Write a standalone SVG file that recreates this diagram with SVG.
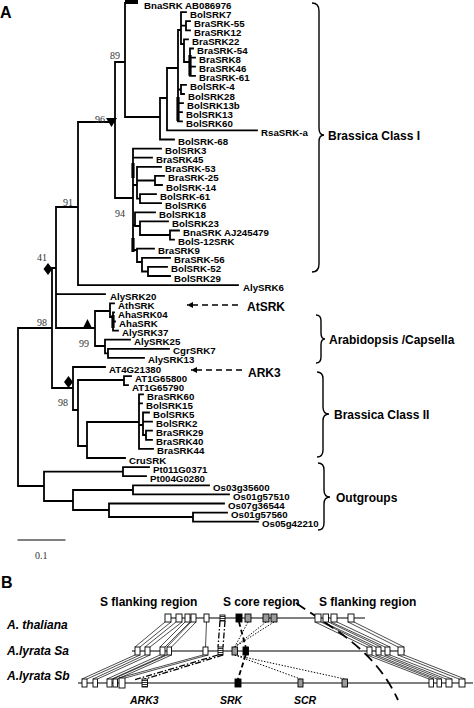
<svg xmlns="http://www.w3.org/2000/svg" width="474" height="708" viewBox="0 0 474 708">
<style>
.br{fill:none;stroke:#000;stroke-width:1.8;stroke-linecap:square}
.tk{fill:none;stroke:#000;stroke-width:3.2}
.lf{font-family:"Liberation Sans",Arial,sans-serif;font-weight:bold;font-size:9.7px;fill:#000}
.bs{font-family:"Liberation Serif","Times New Roman",serif;font-size:10px;fill:#333}
.gp{font-family:"Liberation Sans",Arial,sans-serif;font-weight:bold;font-size:12px;fill:#000}
.pl{font-family:"Liberation Sans",Arial,sans-serif;font-weight:bold;font-size:16px;fill:#000}
.it{font-style:italic}
.gn{font-family:"Liberation Sans",Arial,sans-serif;font-weight:bold;font-style:italic;font-size:10.5px;fill:#000}
.brace{fill:none;stroke:#000;stroke-width:1.4}
.arr{fill:none;stroke:#000;stroke-width:1.6;stroke-dasharray:6 4}
.chr{stroke:#000;stroke-width:1.2;fill:none}
.wb{fill:#fff;stroke:#000;stroke-width:0.9}
.gb{fill:#9a9a9a;stroke:#000;stroke-width:0.9}
.kb{fill:#000;stroke:#000;stroke-width:0.9}
.hb{fill:url(#hp);stroke:#000;stroke-width:0.9}
.dl{stroke:#000;stroke-width:0.7;fill:none}
.dot{stroke:#000;stroke-width:1;stroke-dasharray:1.4 1.6;fill:none}
.dd{stroke:#000;stroke-width:1.3;stroke-dasharray:6 2 1.5 2;fill:none}
.ds{stroke:#000;stroke-width:1.8;stroke-dasharray:5 3;fill:none}
.lds{stroke:#000;stroke-width:1.8;stroke-dasharray:11 6;fill:none}
.mk{fill:#000}
</style>
<defs>
<marker id="ah" viewBox="0 0 10 10" refX="10" refY="5" markerWidth="6" markerHeight="6" orient="auto" markerUnits="userSpaceOnUse">
<path d="M0,0 L10,5 L0,10 z" fill="#000"/>
</marker>
<pattern id="hp" width="4" height="2" patternUnits="userSpaceOnUse">
<rect width="4" height="2" fill="#fff"/>
<rect width="4" height="0.8" fill="#000"/>
</pattern>
</defs>
<rect width="474" height="708" fill="#fff"/>
<text class="pl" x="0" y="18">A</text>
<text class="pl" x="1" y="588">B</text>

<g id="connectors">
<path class="br" d="M115,62H125 M125,3V117 M125,117H160 M160,98V139.5 M160,139.5H174 M160,98H167 M167,68V130.4 M167,130.4H257 M167,68H178 M178,30V121.3
M178,30H181 M181,12.1V44 M181,12.1H186 M181,25.7H186 M186,21.2V30.3 M186,21.2H190 M186,30.3H190 M181,44H184 M184,39.4V62 M184,39.4H188 M184,62H190 M190,48.5V75.8 M190,48.5H193 M190,57.6H195 M190,66.7H195 M190,75.8H195
M178,89.5H181 M181,84.9V94 M181,84.9H186 M181,94H184 M178,103.1H183 M178,112.2H182 M178,121.3H182
M78,122H115 M115,62V198 M115,198H133 M133,148.6V250
M133,148.6H161 M133,157.7H152 M133,185H137 M137,166.8V198.6 M137,166.8H161 M137,180.5H155 M155,175.9V185 M155,175.9H164 M155,185H162 M137,198.6H140 M140,194.1V203.2 M140,194.1H156 M140,203.2H161
M133,225H135 M135,212.3V226 M135,212.3H155 M135,226H140 M140,221.4V235 M140,221.4H168 M140,235H170 M170,230.5V239.6 M170,230.5H179 M170,239.6H174
M133,250H137 M137,248.7V262 M137,248.7H154 M137,262H142 M142,257.8V271.5 M142,257.8H170 M142,271.5H148 M148,266.9V276 M148,266.9H167 M148,276H170
M56,207H78 M78,122V285.1 M78,285.1H238
M52,268H56 M56,207V328 M56,294.2H105 M56,328H95
M95,311V346 M95,311H110 M110,303.3V317 M110,303.3H114 M110,317H113 M113,312.4V330.6 M113,312.4H114 M113,321.5H115 M113,330.6H118
M95,346H105 M105,339.7V353.4 M105,339.7H130 M105,353.4H108 M108,348.8V357.9 M108,348.8H169 M108,357.9H144
M18,328H52 M52,268V388 M52,388H73
M73,367V410 M73,367H105 M73,410H78 M78,380V446 M78,380H124 M124,376.1V385.2 M124,376.1H131 M124,385.2H128 M78,446H87 M87,422V458 M87,458H125 M87,422H139 M139,394.3V448.9 M139,394.3H143 M139,403.4H142 M139,425H143 M143,412.5V435 M143,412.5H149 M143,421.6H152 M143,435H146 M146,430.7V439.8 M146,430.7H152 M146,439.8H152 M139,448.9H153
M18,328V486 M18,486H44 M44,471.6V501 M44,471.6H123 M123,467.1V476.2 M123,467.1H149 M123,476.2H146 M44,501H73 M73,490V510 M73,490H133 M133,485.3V494.4 M133,485.3H209 M133,494.4H229 M73,510H109 M109,503.5V517 M109,503.5H224 M109,517H193 M193,512.6V521.7 M193,512.6H227 M193,521.7H258"/>
<rect x="125" y="0" width="13" height="4" fill="#000"/>
<path class="tk" d="M190,55V75.8 M178,97V121 M133,163V178 M133,238V252 M113,315V328"/>
<path class="br" d="M18,540H65" style="stroke-width:1"/>
<path class="arr" d="M238,305H187" marker-end="url(#ah)"/>
<path class="arr" d="M242,370H191" marker-end="url(#ah)"/>
</g>

<g id="markers">
<path class="mk" d="M106,118H117L111.5,127z"/>
<path class="mk" d="M48,263L52.5,269L48,275L43.5,269z"/>
<path class="mk" d="M87.5,319L92,328H83z"/>
<path class="mk" d="M68.5,376L73,382L68.5,388L64,382z"/>
</g>

<g id="bootstrap">
<text class="bs" x="110" y="59">89</text>
<text class="bs" x="95" y="123">96</text>
<text class="bs" x="115" y="217">94</text>
<text class="bs" x="63" y="206">91</text>
<text class="bs" x="37" y="261">41</text>
<text class="bs" x="37" y="326">98</text>
<text class="bs" x="79" y="347">99</text>
<text class="bs" x="58" y="406">98</text>
<text class="bs" x="35" y="559">0.1</text>
</g>

<g id="leaves" class="lf">
<g id="n1"><text x="144" y="8.5">BnaSRK AB086976</text></g>
<g id="n2"><text x="190" y="17.6">BolSRK7</text></g>
<g id="n3"><text x="194" y="26.7">BraSRK-55</text></g>
<g id="n4"><text x="194" y="35.8">BraSRK12</text></g>
<g id="n5"><text x="192" y="44.9">BraSRK22</text></g>
<g id="n6"><text x="197" y="54">BraSRK-54</text></g>
<g id="n7"><text x="199" y="63.1">BraSRK8</text></g>
<g id="n8"><text x="199" y="72.2">BraSRK46</text></g>
<g id="n9"><text x="199" y="81.3">BraSRK-61</text></g>
<g id="n10"><text x="190" y="90.4">BolSRK-4</text></g>
<g id="n11"><text x="188" y="99.5">BolSRK28</text></g>
<g id="n12"><text x="187" y="108.6">BolSRK13b</text></g>
<g id="n13"><text x="186" y="117.7">BolSRK13</text></g>
<g id="n14"><text x="186" y="126.8">BolSRK60</text></g>
<g id="n15"><text x="261" y="135.9">RsaSRK-a</text></g>
<g id="n16"><text x="178" y="145">BolSRK-68</text></g>
<g id="n17"><text x="165" y="154.1">BolSRK3</text></g>
<g id="n18"><text x="156" y="163.2">BraSRK45</text></g>
<g id="n19"><text x="165" y="172.3">BraSRK-53</text></g>
<g id="n20"><text x="168" y="181.4">BraSRK-25</text></g>
<g id="n21"><text x="166" y="190.5">BolSRK-14</text></g>
<g id="n22"><text x="160" y="199.6">BolSRK-61</text></g>
<g id="n23"><text x="165" y="208.7">BolSRK6</text></g>
<g id="n24"><text x="159" y="217.8">BolSRK18</text></g>
<g id="n25"><text x="172" y="226.9">BolSRK23</text></g>
<g id="n26"><text x="183" y="236">BnaSRK AJ245479</text></g>
<g id="n27"><text x="178" y="245.1">BolS-12SRK</text></g>
<g id="n28"><text x="158" y="254.2">BraSRK9</text></g>
<g id="n29"><text x="174" y="263.3">BraSRK-56</text></g>
<g id="n30"><text x="171" y="272.4">BolSRK-52</text></g>
<g id="n31"><text x="174" y="281.5">BolSRK29</text></g>
<g id="n32"><text x="243" y="290.6">AlySRK6</text></g>
<g id="n33"><text x="110" y="299.7">AlySRK20</text></g>
<g id="n34"><text x="118" y="308.8">AthSRK</text></g>
<g id="n35"><text x="118" y="317.9">AhaSRK04</text></g>
<g id="n36"><text x="119" y="327">AhaSRK</text></g>
<g id="n37"><text x="122" y="336.1">AlySRK37</text></g>
<g id="n38"><text x="134" y="345.2">AlySRK25</text></g>
<g id="n39"><text x="173" y="354.3">CgrSRK7</text></g>
<g id="n40"><text x="148" y="363.4">AlySRK13</text></g>
<g id="n41"><text x="109" y="372.5">AT4G21380</text></g>
<g id="n42"><text x="135" y="381.6">AT1G65800</text></g>
<g id="n43"><text x="132" y="390.7">AT1G65790</text></g>
<g id="n44"><text x="147" y="399.8">BraSRK60</text></g>
<g id="n45"><text x="146" y="408.9">BolSRK15</text></g>
<g id="n46"><text x="153" y="418">BolSRK5</text></g>
<g id="n47"><text x="156" y="427.1">BolSRK2</text></g>
<g id="n48"><text x="156" y="436.2">BraSRK29</text></g>
<g id="n49"><text x="156" y="445.3">BraSRK40</text></g>
<g id="n50"><text x="157" y="454.4">BraSRK44</text></g>
<g id="n51"><text x="129" y="463.5">CruSRK</text></g>
<g id="n52"><text x="153" y="472.6">Pt011G0371</text></g>
<g id="n53"><text x="150" y="481.7">Pt004G0280</text></g>
<g id="n54"><text x="213" y="490.8">Os03g35600</text></g>
<g id="n55"><text x="233" y="499.9">Os01g57510</text></g>
<g id="n56"><text x="228" y="509">Os07g36544</text></g>
<g id="n57"><text x="231" y="518.1">Os01g57560</text></g>
<g id="n58"><text x="262" y="527.2">Os05g42210</text></g>
</g>

<g id="callouts">
<text class="gp" x="247" y="311">AtSRK</text>
<text class="gp" x="248" y="377">ARK3</text>
</g>

<g id="groups">
<path class="brace" d="M312,3Q319,3 319,11V128Q319,135 324,135Q319,135 319,142V264Q319,272 312,272"/>
<text class="gp" x="328" y="139.5">Brassica Class I</text>
<path class="brace" d="M316,315Q321,315 321,321V333Q321,339 325,339Q321,339 321,345V357Q321,363 316,363"/>
<text class="gp" x="329" y="343.5">Arabidopsis /Capsella</text>
<path class="brace" d="M317,372Q323,372 323,379V407Q323,414 329,414Q323,414 323,421V450Q323,457 317,457"/>
<text class="gp" x="334" y="418.5">Brassica Class II</text>
<path class="brace" d="M318,463Q324,463 324,470V490Q324,497 330,497Q324,497 324,504V523Q324,530 318,530"/>
<text class="gp" x="336" y="501.5">Outgroups</text>
</g>

<g id="panelB">
<text class="gp" x="100" y="606">S flanking region</text>
<text class="gp" x="223" y="606">S core region</text>
<text class="gp" x="319" y="606">S flanking region</text>
<text class="gp it" x="7" y="629">A. thaliana</text>
<text class="gp it" x="7" y="654.5">A.lyrata Sa</text>
<text class="gp it" x="7" y="680">A.lyrata Sb</text>
<text class="gn" x="130" y="704">ARK3</text>
<text class="gn" x="220" y="704">SRK</text>
<text class="gn" x="294" y="704">SCR</text>

<g id="links">
<path class="dl" d="M165,622L135,647 M171,622L140,647 M176,622L145,647 M182,622L150,647 M185,622L160,647 M190,622L165,647 M191,622L167,647 M196,622L171.5,647 M206.5,622L205.5,647
M135,655L82,679 M140,655L87,679 M145,655L93,679 M150,655L97.5,679 M160,655L107,679 M165,655L112,679 M167,655L113,679 M171.5,655L117.5,679 M203,655L119,678 M208,655L125,678
M315,622L367,647 M321,622L372,647 M323,622L376,647 M328.5,622L381,647 M331,622L385,647 M337,622L390,647 M348,622L398,647 M354,622L404,647
M367,655L429,679 M372,655L433.5,679 M376,655L437,679 M381,655L441.5,679 M385,655L446,679 M390,655L452,679 M398,655L459,679 M404,655L465,679"/>
<path class="dd" d="M220,621L218,647 M225,621L223,647 M218,655L134,680 M223,655L142,680"/>
<path class="ds" d="M239,622L245.7,647 M245.7,655L238,679"/>
<path class="dot" d="M248,622L234.7,647 M266,622L234.7,647 M274,622L234.7,647 M234.7,655L300.5,679 M234.7,655L344.7,679"/>
<path class="lds" d="M296,603C335,630 375,650 398,700"/>
</g>

<g id="chromosomes">
<path class="chr" d="M165,618H365 M132,651H405 M78,683H473"/>
</g>

<g id="athaliana">
<rect class="wb" x="165" y="614" width="6" height="8"/>
<rect class="wb" x="176" y="614" width="6" height="8"/>
<rect class="wb" x="185" y="614" width="5" height="8"/>
<rect class="wb" x="191" y="614" width="5" height="8"/>
<rect class="wb" x="204" y="614" width="5" height="8"/>
<rect class="hb" x="220" y="615" width="5" height="6"/>
<rect class="kb" x="236" y="614" width="6" height="8"/>
<rect class="gb" x="245" y="614" width="6" height="8"/>
<rect class="gb" x="263" y="614" width="6" height="8"/>
<rect class="gb" x="271" y="614" width="6" height="8"/>
<rect class="wb" x="315" y="614" width="6" height="8"/>
<rect class="wb" x="323" y="614" width="5.5" height="8"/>
<rect class="wb" x="331" y="614" width="6" height="8"/>
<rect class="wb" x="348" y="614" width="6" height="8"/>
</g>
<g id="lyrataSa">
<rect class="wb" x="135" y="647" width="5" height="8"/>
<rect class="wb" x="145" y="647" width="5" height="8"/>
<rect class="wb" x="160" y="647" width="5" height="8"/>
<rect class="wb" x="167" y="647" width="4.5" height="8"/>
<rect class="wb" x="203" y="647" width="5" height="8"/>
<rect class="hb" x="218" y="647" width="5" height="8"/>
<rect class="gb" x="232" y="647" width="5.5" height="8"/>
<rect class="kb" x="243" y="647" width="5.5" height="8"/>
<rect class="wb" x="367" y="647" width="5" height="8"/>
<rect class="wb" x="376" y="647" width="5" height="8"/>
<rect class="wb" x="385" y="647" width="5" height="8"/>
<rect class="wb" x="398" y="647" width="6" height="8"/>
</g>
<g id="lyrataSb">
<rect class="wb" x="82" y="679" width="5" height="8"/>
<rect class="wb" x="93" y="679" width="4.5" height="8"/>
<rect class="wb" x="107" y="679" width="5" height="8"/>
<rect class="wb" x="113" y="679" width="4.5" height="8"/>
<rect class="wb" x="119" y="678" width="6" height="10"/>
<rect class="hb" x="142" y="679" width="5.5" height="8"/>
<rect class="kb" x="235" y="679" width="6" height="8"/>
<rect class="gb" x="298" y="679" width="5" height="8"/>
<rect class="gb" x="342" y="679" width="5.5" height="8"/>
<rect class="wb" x="429" y="679" width="4.5" height="8"/>
<rect class="wb" x="437" y="679" width="4.5" height="8"/>
<rect class="wb" x="446" y="679" width="6" height="8"/>
<rect class="wb" x="459" y="679" width="6" height="8"/>
</g>
</g>
</svg>
